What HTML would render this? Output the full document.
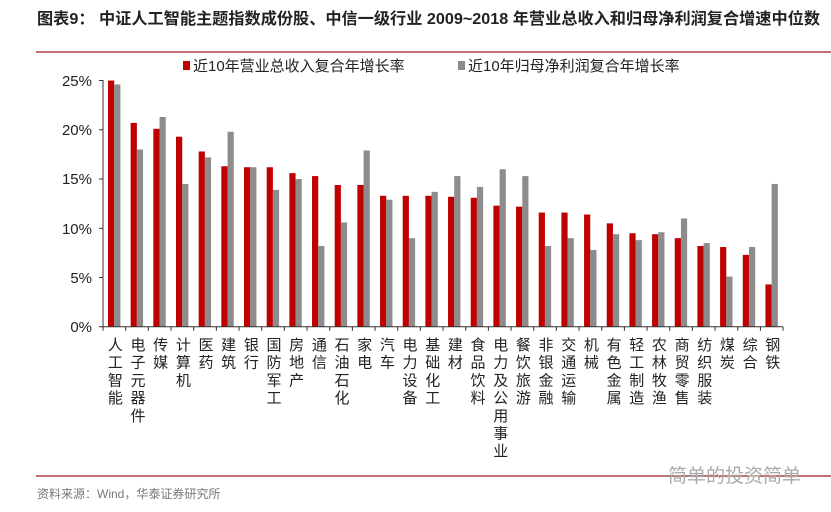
<!DOCTYPE html>
<html><head><meta charset="utf-8"><style>
body{margin:0;background:#fff;}
svg{display:block;font-family:"Liberation Sans","Noto Sans CJK SC",sans-serif;}
</style></head><body>
<svg width="831" height="512" viewBox="0 0 831 512">
<text x="37" y="24" font-size="16" font-weight="bold" fill="#222" textLength="783" lengthAdjust="spacingAndGlyphs" font-family="'Liberation Sans','Noto Sans CJK SC',sans-serif">图表9：  中证人工智能主题指数成份股、中信一级行业 2009~2018 年营业总收入和归母净利润复合增速中位数</text>
<line x1="36" y1="52" x2="831" y2="52" stroke="#9b1c20" stroke-width="1.2"/>
<rect x="183" y="61" width="7" height="9" fill="#c00000"/>
<text x="193" y="71" font-size="15" fill="#222">近10年营业总收入复合年增长率</text>
<rect x="458" y="61" width="7" height="9" fill="#8c8c8c"/>
<text x="468" y="71" font-size="15" fill="#222">近10年归母净利润复合年增长率</text>
<g font-size="15" fill="#222" text-anchor="end">
<text x="92" y="86">25%</text><text x="92" y="135">20%</text><text x="92" y="184">15%</text><text x="92" y="234">10%</text><text x="92" y="283">5%</text><text x="92" y="332">0%</text>
</g>
<line x1="103" y1="80" x2="103" y2="327" stroke="#333"/>
<g stroke="#333"><line x1="99" y1="80.5" x2="103" y2="80.5"/><line x1="99" y1="129.8" x2="103" y2="129.8"/><line x1="99" y1="179" x2="103" y2="179"/><line x1="99" y1="228.3" x2="103" y2="228.3"/><line x1="99" y1="277.5" x2="103" y2="277.5"/></g>
<g id="bars"></g>
<line x1="99" y1="326.8" x2="783" y2="326.8" stroke="#333"/>
<g id="ticks" stroke="#333"></g>
<g id="labels" font-size="15" fill="#222" text-anchor="middle"></g>
<line x1="36" y1="476" x2="831" y2="476" stroke="#9b1c20" stroke-width="1.2"/>
<text x="37" y="498" font-size="12" fill="#777">资料来源：Wind，华泰证券研究所</text>
<text x="668" y="482" font-size="19" fill="#aaa">简单的投资简单</text>
</svg>
<script>
var d=[["人工智能",25.0,24.6],["电子元器件",20.7,18.0],["传媒",20.1,21.3],["计算机",19.3,14.5],["医药",17.8,17.2],["建筑",16.3,19.8],["银行",16.2,16.2],["国防军工",16.2,13.9],["房地产",15.6,15.0],["通信",15.3,8.2],["石油石化",14.4,10.6],["家电",14.4,17.9],["汽车",13.3,12.9],["电力设备",13.3,9.0],["基础化工",13.3,13.7],["建材",13.2,15.3],["食品饮料",13.1,14.2],["电力及公用事业",12.3,16.0],["餐饮旅游",12.2,15.3],["非银金融",11.6,8.2],["交通运输",11.6,9.0],["机械",11.4,7.8],["有色金属",10.5,9.4],["轻工制造",9.5,8.8],["农林牧渔",9.4,9.6],["商贸零售",9.0,11.0],["纺织服装",8.2,8.5],["煤炭",8.1,5.1],["综合",7.3,8.1],["钢铁",4.3,14.5]];
var ns="http://www.w3.org/2000/svg",b=document.getElementById("bars"),t=document.getElementById("ticks"),l=document.getElementById("labels");
var base=326.8,k=9.85,w=22.67;
function el(p,n,a){var e=document.createElementNS(ns,n);for(var x in a)e.setAttribute(x,a[x]);p.appendChild(e);return e;}
d.forEach(function(r,i){var x0=103+i*w;
el(b,"rect",{x:x0+5,y:base-r[1]*k,width:6.2,height:r[1]*k,fill:"#c00000"});
el(b,"rect",{x:x0+11.2,y:base-r[2]*k,width:6.2,height:r[2]*k,fill:"#8c8c8c"});
el(t,"line",{x1:x0,y1:base,x2:x0,y2:base+4});
for(var j=0;j<r[0].length;j++){var e=el(l,"text",{x:x0+w/2+1,y:350+j*17.7});e.textContent=r[0][j];}
});
el(t,"line",{x1:783,y1:base,x2:783,y2:base+4});
</script>
</body></html>
